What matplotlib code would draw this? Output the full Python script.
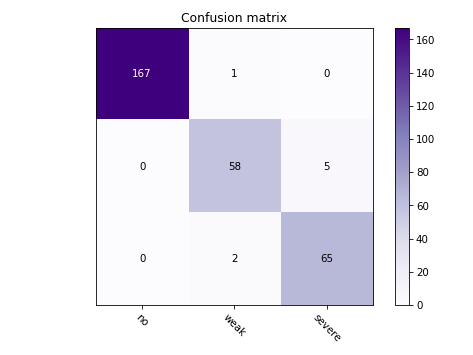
import matplotlib
matplotlib.use("Agg")
import matplotlib.pyplot as plt
import numpy as np

classes = ["no", "weak", "severe"]
row_no = [167, 1, 0]
row_weak = [0, 58, 5]
row_severe = [0, 2, 65]

cm = np.array([row_no, row_weak, row_severe])

# default 6.4x4.8 figure rendered small
fig = plt.figure(figsize=(6.4, 4.8), dpi=74)
ax = fig.add_axes([0.2025, 0.141, 0.585, 0.780])
cax = fig.add_axes([0.835, 0.141, 0.028, 0.780])

im = ax.imshow(cm, interpolation="nearest", cmap=plt.cm.Purples, aspect="auto")
ax.set_title("Confusion matrix")
fig.colorbar(im, cax=cax)

tick_marks = np.arange(len(classes))
ax.set_xticks(tick_marks)
ax.set_xticklabels(classes, rotation=-45)
ax.set_yticks([])

thresh = cm.max() / 2.0
for i in range(cm.shape[0]):
    for j in range(cm.shape[1]):
        ax.text(j, i, format(cm[i, j], "d"), ha="center", va="center",
                color="white" if cm[i, j] > thresh else "black")

fig.savefig("out.png", dpi=74)
